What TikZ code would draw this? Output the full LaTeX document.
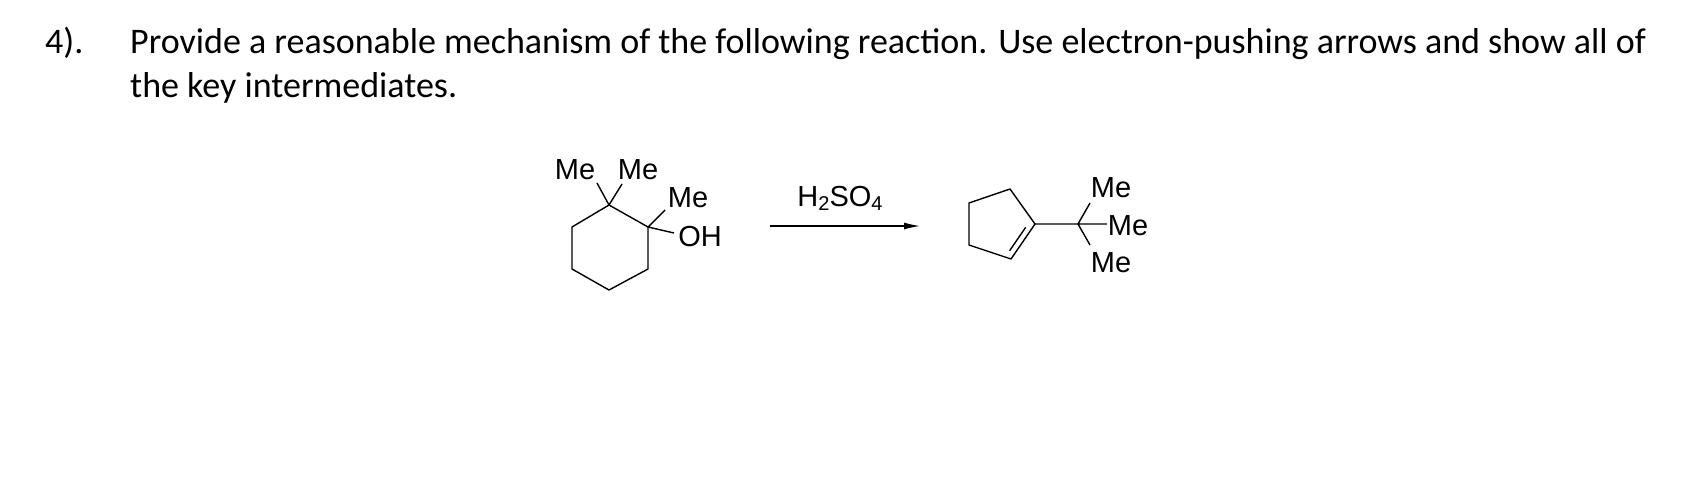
\documentclass[tikz,border=0pt]{standalone}
\usepackage{fontspec}
\usetikzlibrary{arrows.meta,calc}
\setmainfont{Carlito}
\newfontfamily\arial{Liberation Sans}
\begin{document}
\begin{tikzpicture}[x=1pt,y=-1pt,
  bond/.style={line width=1.4pt,line join=round},
  lab/.style={font=\arial\fontsize{29}{34}\selectfont,inner sep=0pt},
  txt/.style={font=\fontsize{36}{43}\selectfont,inner sep=0pt,anchor=base west}]
\useasboundingbox (0,0) rectangle (1696,480);
\node[txt] (num) at (45,53) {4).};
\node[txt] (l1) at (130,53) {Provide a reasonable mechanism of the following reaction. Use electron-pushing arrows and show all of};
\node[txt] (l2) at (130,97) {the key intermediates.};
% left molecule
\coordinate (a1) at (609,205);
\coordinate (a2) at (648,227);
\coordinate (a3) at (648,269);
\coordinate (a4) at (609,290);
\coordinate (a5) at (572,269);
\coordinate (a6) at (572,227);
\draw[bond] (a1)--(a2)--(a3)--(a4)--(a5)--(a6)--cycle;
\node[lab] (me1) at (575,170) {Me};
\node[lab] (me2) at (638,170) {Me};
\node[lab] (me3) at (688,198) {Me};
\node[lab] (oh) at (700,237) {OH};
\coordinate (b1) at (597,183);
\coordinate (b2) at (622,184);
\coordinate (b3) at (665,210);
\coordinate (b4) at (674,233);
\draw[bond] (a1)--(b1) (a1)--(b2) (a2)--(b3) (a2)--(b4);
% arrow
\coordinate (r1) at (770,226);
\coordinate (r2) at (920,226);
\draw[line width=1.3pt,-{Latex[length=16pt,width=7pt]}] (r1)--(r2);
\node[lab] (cat) at (840,198) {H\raisebox{-0.25ex}{\fontsize{20}{20}\selectfont 2}SO\raisebox{-0.25ex}{\fontsize{20}{20}\selectfont 4}};
% right molecule
\coordinate (c1) at (1035,224);
\coordinate (c2) at (1010,189);
\coordinate (c3) at (969,203);
\coordinate (c4) at (969,245);
\coordinate (c5) at (1011,259);
\draw[bond] (c1)--(c2)--(c3)--(c4)--(c5)--cycle;
\draw[bond] ($(c1)!0.18!(c5)+(-5,-3)$)--($(c1)!0.85!(c5)+(-5,-3)$);
\coordinate (q) at (1078,224);
\coordinate (d1) at (1090,203);
\coordinate (d2) at (1107,224);
\coordinate (d3) at (1090,245);
\draw[bond] (c1)--(q) (q)--(d1) (q)--(d2) (q)--(d3);
\node[lab] (m1) at (1111,188) {Me};
\node[lab] (m2) at (1128,226) {Me};
\node[lab] (m3) at (1111,263) {Me};
\end{tikzpicture}
\end{document}
